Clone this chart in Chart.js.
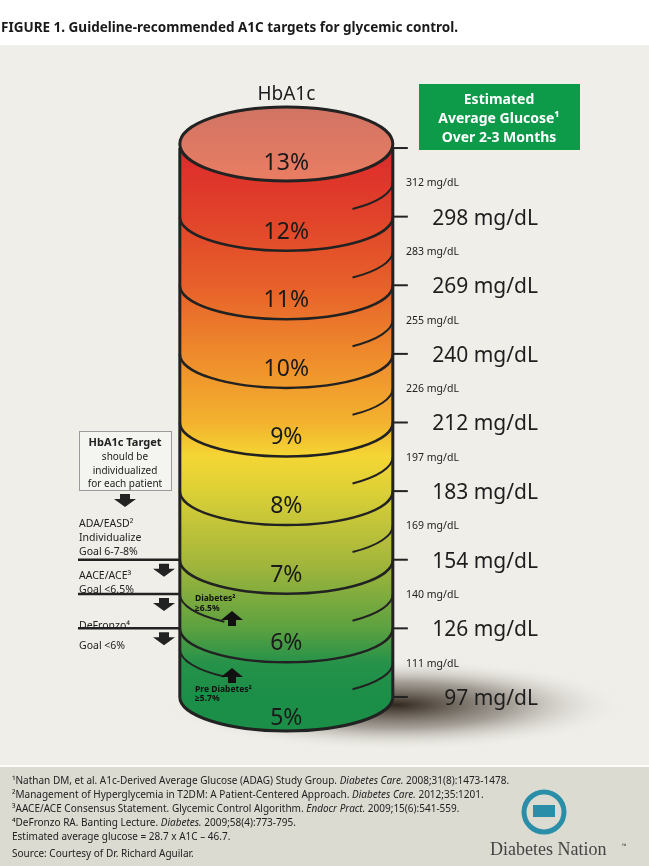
<!DOCTYPE html>
<html><head><meta charset="utf-8">
<script src="https://cdn.jsdelivr.net/npm/chart.js@4"></script>
<style>html,body{margin:0;padding:0;background:#fff}canvas{display:block}</style>
</head><body>
<canvas id="c" width="649" height="866"></canvas>
<script>
const levels = [13, 12, 11, 10, 9, 8, 7, 6, 5];
const eagLevels = [12, 11, 10, 9, 8, 7, 6, 5];
const eagValues = [298, 269, 240, 212, 183, 154, 126, 97];
const halfLevels = [12.5, 11.5, 10.5, 9.5, 8.5, 7.5, 6.5, 5.5];
const halfValues = [312, 283, 255, 226, 197, 169, 140, 111];
const categories = ['', '', '', '', '', '', '', 'HbA1c', '', '', '', '', '', '', '', '', ''];
const barRange = [5, 13];
const guidelineLevels = [7, 6.5, 6];
const diabetesLevel = 6.5, preDiabetesLevel = 5.7;
const BAR_INDEX = categories.indexOf('HbA1c');

const FONT = "'Noto Sans', 'Open Sans', sans-serif";
const stops = [[13,'#dd2a2b'],[12,'#e1432a'],[11,'#e7602a'],[10,'#ee8a2c'],[9,'#f3b22e'],[8.5,'#f4d634'],[8,'#dcd036'],[7,'#a6b73b'],[6,'#5ca140'],[5.5,'#26924a'],[5,'#1b8e47']];

function gradFor(ctx, y){
  const g = ctx.createLinearGradient(0, y.getPixelForValue(13), 0, y.getPixelForValue(5));
  stops.forEach(([v,c])=>g.addColorStop((13-v)/8, c));
  return g;
}
function txt(ctx, s, x, y, font, color, align){
  ctx.font = font; ctx.fillStyle = color || '#222'; ctx.textAlign = align || 'left'; ctx.textBaseline='alphabetic';
  ctx.fillText(s, x, y);
}
function segs(ctx, parts, x, y){
  ctx.textAlign='left'; ctx.fillStyle='#222';
  parts.forEach(([s,it])=>{ ctx.font=(it?'italic ':'')+'10px '+FONT; ctx.fillText(s,x,y); x+=ctx.measureText(s).width; });
}
function downArrow(ctx, x, y){
  ctx.fillStyle='#222'; ctx.beginPath();
  ctx.moveTo(x-5,y); ctx.lineTo(x+5,y); ctx.lineTo(x+5,y+5); ctx.lineTo(x+11,y+5); ctx.lineTo(x,y+13); ctx.lineTo(x-11,y+5); ctx.lineTo(x-5,y+5); ctx.closePath(); ctx.fill();
}
function upArrow(ctx, x, y){
  ctx.fillStyle='#111'; ctx.beginPath();
  ctx.moveTo(x-4,y); ctx.lineTo(x+4,y); ctx.lineTo(x+4,y-6); ctx.lineTo(x+11,y-6); ctx.lineTo(x,y-15); ctx.lineTo(x-11,y-6); ctx.lineTo(x-4,y-6); ctx.closePath(); ctx.fill();
}

const RY = 34;
const plugin = {
  id:'cyl',
  beforeDatasetsDraw(chart){
    const ctx = chart.ctx, y = chart.scales.y;
    const bar = chart.getDatasetMeta(0).data[BAR_INDEX];
    const cx = bar.x, rx = bar.width/2;
    ctx.save();
    ctx.fillStyle='#ffffff'; ctx.fillRect(0,0,649,45);
    ctx.fillStyle='#efeee8'; ctx.fillRect(0,45,649,722);
    ctx.fillStyle='#fbfbf8'; ctx.fillRect(0,765,649,2);
    ctx.fillStyle='#dcdbd2'; ctx.fillRect(0,767,649,99);
    const yb = y.getPixelForValue(5);
    ctx.save(); ctx.translate(cx+110, yb+8); ctx.scale(1, 0.2);
    const sg = ctx.createRadialGradient(0,0,0,0,0,230);
    sg.addColorStop(0,'rgba(40,30,20,0.95)'); sg.addColorStop(0.5,'rgba(90,80,70,0.5)'); sg.addColorStop(1,'rgba(239,238,232,0)');
    ctx.fillStyle=sg; ctx.beginPath(); ctx.arc(0,0,230,0,Math.PI*2); ctx.fill(); ctx.restore();
    ctx.beginPath(); ctx.ellipse(cx, yb, rx, RY, 0, 0, Math.PI); ctx.closePath();
    ctx.fillStyle='#1b8e47'; ctx.fill();
    ctx.lineWidth=3; ctx.strokeStyle='#222'; ctx.beginPath(); ctx.ellipse(cx, yb, rx, RY, 0, 0, Math.PI); ctx.stroke();
    ctx.restore();
  },
  afterDatasetsDraw(chart){
    const ctx = chart.ctx, y = chart.scales.y;
    const bar = chart.getDatasetMeta(0).data[BAR_INDEX];
    const cx = bar.x, rx = bar.width/2, L = cx-rx, R = cx+rx;
    const yt = y.getPixelForValue(13), yb = y.getPixelForValue(5);
    ctx.save();
    ctx.strokeStyle='#222'; ctx.lineWidth=3;
    ctx.beginPath(); ctx.moveTo(L,yt); ctx.lineTo(L,yb); ctx.moveTo(R,yt); ctx.lineTo(R,yb); ctx.stroke();
    const tg = ctx.createLinearGradient(0, yt-RY-3, 0, yt+RY+3);
    tg.addColorStop(0,'#d27464'); tg.addColorStop(1,'#eb7e62');
    ctx.beginPath(); ctx.ellipse(cx, yt-4, rx, RY+3, 0, 0, Math.PI*2); ctx.fillStyle=tg; ctx.fill(); ctx.stroke();
    ctx.lineWidth=2.5;
    levels.slice(1,-1).forEach(v=>{ const py=y.getPixelForValue(v); ctx.beginPath(); ctx.ellipse(cx, py, rx, RY, 0, 0, Math.PI); ctx.stroke(); });
    ctx.lineWidth=2;
    halfLevels.forEach(v=>{ const py=y.getPixelForValue(v); ctx.beginPath(); ctx.ellipse(cx, py, rx, RY, 0, 0, 0.9); ctx.stroke(); });
    [diabetesLevel, preDiabetesLevel].forEach(v=>{ const py=y.getPixelForValue(v); ctx.beginPath(); ctx.ellipse(cx, py, rx, RY, 0, Math.PI-0.95, Math.PI); ctx.stroke(); });
    ctx.lineWidth=2;
    levels.forEach(v=>{ const py=y.getPixelForValue(v); ctx.beginPath(); ctx.moveTo(R,py); ctx.lineTo(R+15,py); ctx.stroke(); });
    levels.forEach(v=>txt(ctx, v+'%', cx, y.getPixelForValue(v)+ (v===5?28:22), '23px '+FONT, '#1a1a1a', 'center'));
    eagLevels.forEach((v,i)=>txt(ctx, eagValues[i]+' mg/dL', 538, y.getPixelForValue(v)+8, '21px '+FONT, '#1e1e1e', 'right'));
    halfLevels.forEach((v,i)=>txt(ctx, halfValues[i]+' mg/dL', 406, y.getPixelForValue(v)+4, '10.5px '+FONT, '#222', 'left'));
    txt(ctx, 'FIGURE 1. Guideline-recommended A1C targets for glycemic control.', 1, 32, 'bold 13.5px '+FONT, '#1a1a1a');
    txt(ctx, 'HbA1c', cx, 100, '19px '+FONT, '#1e1e1e', 'center');
    ctx.fillStyle='#0d9a49'; ctx.fillRect(419,84,161,66);
    ['Estimated','Average Glucose¹','Over 2-3 Months'].forEach((s,i)=>txt(ctx, s, 499, 104+i*19, 'bold 14px '+FONT, '#fff', 'center'));
    ctx.fillStyle='#f4f4f0'; ctx.fillRect(79,431,92,59); ctx.strokeStyle='#9a9a9a'; ctx.lineWidth=1; ctx.strokeRect(79.5,431.5,92,59);
    txt(ctx,'HbA1c Target',125,446,'bold 11px '+FONT,'#222','center');
    ['should be','individualized','for each patient'].forEach((s,i)=>txt(ctx,s,125,460+i*13.5,'10px '+FONT,'#222','center'));
    downArrow(ctx,125,494);
    ctx.strokeStyle='#222'; ctx.lineWidth=2.5;
    guidelineLevels.forEach(v=>{ const py=y.getPixelForValue(v); ctx.beginPath(); ctx.moveTo(78,py); ctx.lineTo(L,py); ctx.stroke(); downArrow(ctx,164,py+4); });
    const f11='10.5px '+FONT;
    txt(ctx,'ADA/EASD²',79,527,f11); txt(ctx,'Individualize',79,541,f11); txt(ctx,'Goal 6-7-8%',79,555,f11);
    txt(ctx,'AACE/ACE³',79,579,f11); txt(ctx,'Goal <6.5%',79,593,f11);
    txt(ctx,'DeFronzo⁴',79,629,f11); txt(ctx,'Goal <6%',79,649,f11);
    txt(ctx,'Diabetes²',195,601,'bold 8.5px '+FONT,'#111'); txt(ctx,'≥6.5%',195,611,'bold 8.5px '+FONT,'#111');
    upArrow(ctx,232,626);
    upArrow(ctx,232,683);
    txt(ctx,'Pre Diabetes²',195,692,'bold 8.5px '+FONT,'#111'); txt(ctx,'≥5.7%',195,701,'bold 8.5px '+FONT,'#111');
    segs(ctx,[['¹Nathan DM, et al. A1c-Derived Average Glucose (ADAG) Study Group. '],['Diabetes Care.',1],[' 2008;31(8):1473-1478.']],12,784);
    segs(ctx,[['²Management of Hyperglycemia in T2DM: A Patient-Centered Approach. '],['Diabetes Care.',1],[' 2012;35:1201.']],12,798);
    segs(ctx,[['³AACE/ACE Consensus Statement. Glycemic Control Algorithm. '],['Endocr Pract.',1],[' 2009;15(6):541-559.']],12,812);
    segs(ctx,[['⁴DeFronzo RA. Banting Lecture. '],['Diabetes.',1],[' 2009;58(4):773-795.']],12,826);
    segs(ctx,[['Estimated average glucose = 28.7 x A1C – 46.7.']],12,840);
    segs(ctx,[['Source: Courtesy of Dr. Richard Aguilar.']],12,857);
    ctx.strokeStyle='#2a8ea8'; ctx.lineWidth=5; ctx.beginPath(); ctx.arc(544,812,20,0,Math.PI*2); ctx.stroke();
    ctx.fillStyle='#2a8ea8'; ctx.fillRect(533,805,22,12);
    txt(ctx,'Diabetes Nation',490,855,'18px "Liberation Serif", serif','#444');
    txt(ctx,'™',622,848,'6px '+FONT,'#444');
    ctx.restore();
  }
};

new Chart(document.getElementById('c'), {
  type:'bar',
  data:{ labels:categories, datasets:[{
    data: categories.map((c)=> c ? barRange : null),
    backgroundColor: (c)=> c.chart.chartArea ? gradFor(c.chart.ctx, c.chart.scales.y) : '#e55',
    borderWidth:0, barThickness:213
  }]},
  options:{
    responsive:false, animation:false, devicePixelRatio:1,
    layout:{padding:0},
    plugins:{legend:{display:false}, tooltip:{enabled:false}},
    scales:{
      x:{display:false},
      y:{display:false, min:5-(866-697)/68.6, max:13+148/68.6}
    }
  },
  plugins:[plugin]
});
</script>
</body></html>
